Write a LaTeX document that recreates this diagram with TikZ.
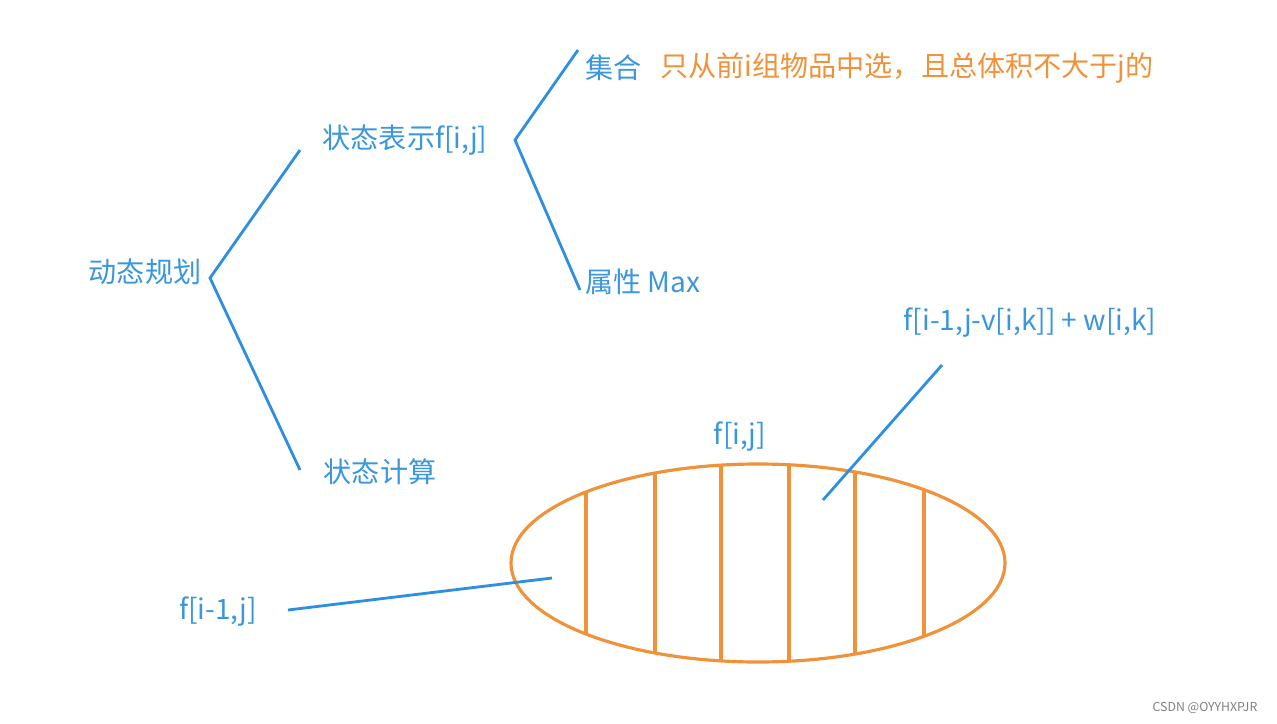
\documentclass[tikz,border=0pt]{standalone}
\usepackage{fontspec}
\setmainfont{Noto Sans CJK SC}
\definecolor{tb}{HTML}{3A96DD}
\definecolor{lb}{HTML}{2E8FE0}
\definecolor{og}{HTML}{F0923A}
\begin{document}
\begin{tikzpicture}[x=0.02cm,y=-0.02cm,
  t/.style={text=tb,font=\fontsize{16}{18}\selectfont,inner sep=0pt},
  bl/.style={draw=lb,line width=1.6pt},
  ol/.style={draw=og,line width=1.8pt}]
\useasboundingbox (0,0) rectangle (1277,723);
\node[t] (dp) at (145,272) {动态规划};
\node[t] (rep) at (405,140) {状态表示f[i,j]};
\node[t] (calc) at (380,472) {状态计算};
\node[t,anchor=west] (set) at (585,68) {集合};
\begin{scope}
\clip (0,0) rectangle (1222,723);
\node[t,anchor=west,text=og] (setd) at (660,68) {只从前i组物品中选，且总体积不大于j的};
\end{scope}
\node[t,anchor=west] (attr) at (585,282) {属性 Max};
\coordinate (a0) at (210,278);
\coordinate (a1) at (300,150);
\coordinate (a2) at (300,470);
\draw[bl] (a1) -- (a0) -- (a2);
\coordinate (b0) at (515,140);
\coordinate (b1) at (578,50);
\coordinate (b2) at (580,290);
\draw[bl] (b1) -- (b0) -- (b2);
\coordinate (ec) at (758,563);
\draw[ol] (ec) ellipse [x radius=247, y radius=99];
\begin{scope}
\clip (ec) ellipse [x radius=247, y radius=99];
\foreach \x in {586,655,721,789,855,924} \draw[ol] (\x,440) -- (\x,690);
\end{scope}
\node[t] (fij) at (740,437) {f[i,j]};
\node[t] (fv) at (1030,323) {f[i-1,j-v[i,k]] + w[i,k]};
\coordinate (c0) at (942,365);
\coordinate (c1) at (823,500);
\draw[bl] (c0) -- (c1);
\node[t] (f1) at (218,612) {f[i-1,j]};
\coordinate (d0) at (288,610);
\coordinate (d1) at (552,578);
\draw[bl] (d0) -- (d1);
\node[text=gray,font=\fontsize{7}{8}\selectfont,inner sep=0pt] (csdn) at (1205,708) {CSDN @OYYHXPJR};
\end{tikzpicture}
\end{document}
